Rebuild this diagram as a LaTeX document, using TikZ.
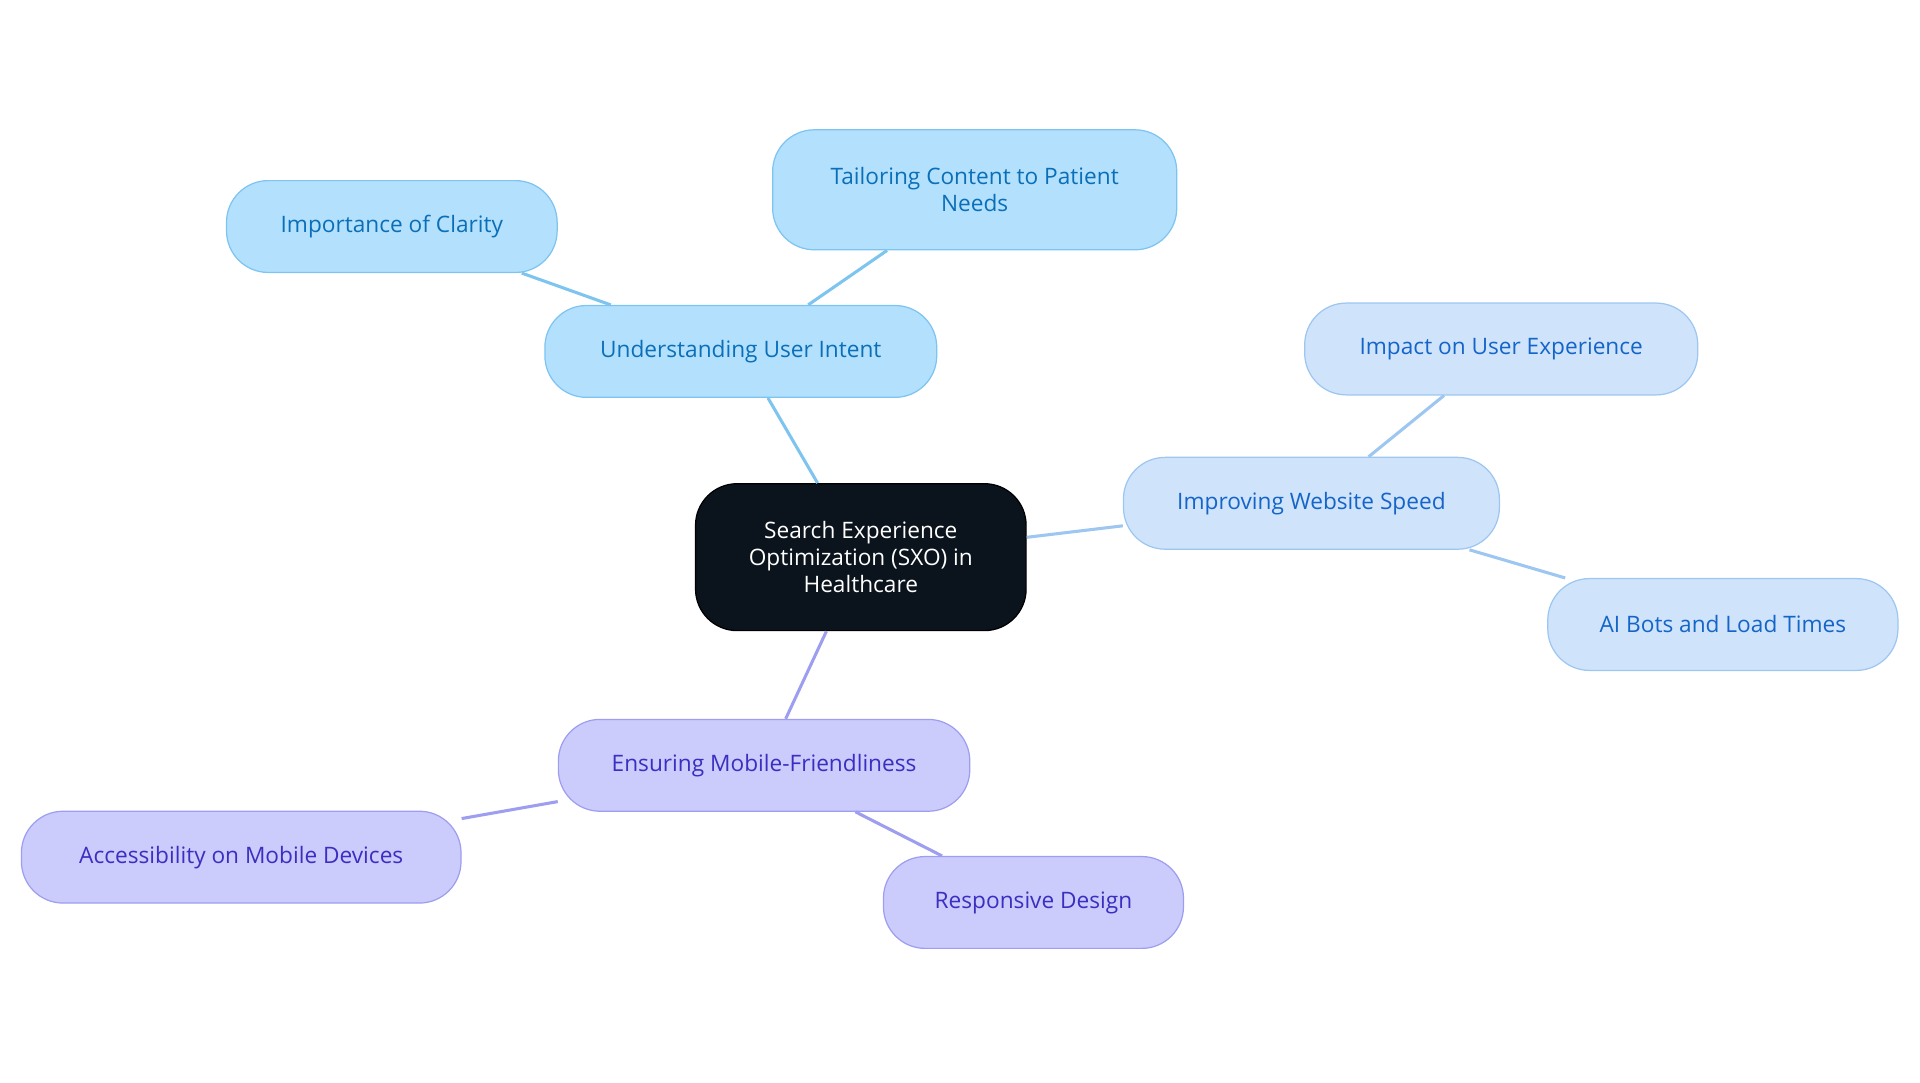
\documentclass[tikz,border=0pt]{standalone}
\usepackage{fontspec}
\setmainfont{Open Sans}
\definecolor{cfill}{HTML}{0B131C}
\definecolor{bfill}{HTML}{B3E0FD}\definecolor{bline}{HTML}{7DC4F0}\definecolor{btext}{HTML}{0B6FB8}
\definecolor{sfill}{HTML}{CFE3FB}\definecolor{sline}{HTML}{9DC6F0}\definecolor{stext}{HTML}{1565C8}
\definecolor{pfill}{HTML}{CBCBFC}\definecolor{pline}{HTML}{9E9EF0}\definecolor{ptext}{HTML}{3A2FC0}
\begin{document}
\begin{tikzpicture}[x=1pt,y=-1pt,
 box/.style={rounded corners=34pt,minimum height=75pt,align=center,font=\fontsize{18.5}{22}\selectfont,line width=1pt},
 bb/.style={box,fill=bfill,draw=bline,text=btext},
 sb/.style={box,fill=sfill,draw=sline,text=stext},
 pb/.style={box,fill=pfill,draw=pline,text=ptext},
 be/.style={draw=bline,line width=2.5pt},
 se/.style={draw=sline,line width=2.5pt},
 pe/.style={draw=pline,line width=2.5pt}]
\useasboundingbox (0,0) rectangle (1568,884);
\node[box,fill=cfill,draw=black,text=white,minimum width=270pt,minimum height=120pt] (c) at (703,455) {Search Experience\\Optimization (SXO) in\\Healthcare};
\node[bb,minimum width=320pt] (u) at (605,287) {Understanding User Intent};
\node[bb,minimum width=270pt] (i) at (320,185) {Importance of Clarity};
\node[bb,minimum width=330pt,minimum height=98pt] (t) at (796,155) {Tailoring Content to Patient\\Needs};
\node[sb,minimum width=307pt] (w) at (1071,411) {Improving Website Speed};
\node[sb,minimum width=321pt] (m) at (1226,285) {Impact on User Experience};
\node[sb,minimum width=286pt] (a) at (1407,510) {AI Bots and Load Times};
\node[pb,minimum width=336pt] (e) at (624,625) {Ensuring Mobile-Friendliness};
\node[pb,minimum width=359pt] (ac) at (197,700) {Accessibility on Mobile Devices};
\node[pb,minimum width=245pt] (r) at (844,737) {Responsive Design};
\draw[be] (c) -- (u); \draw[be] (u) -- (i); \draw[be] (u) -- (t);
\draw[se] (c) -- (w); \draw[se] (w) -- (m); \draw[se] (w) -- (a);
\draw[pe] (c) -- (e); \draw[pe] (e) -- (ac); \draw[pe] (e) -- (r);
\end{tikzpicture}
\end{document}
